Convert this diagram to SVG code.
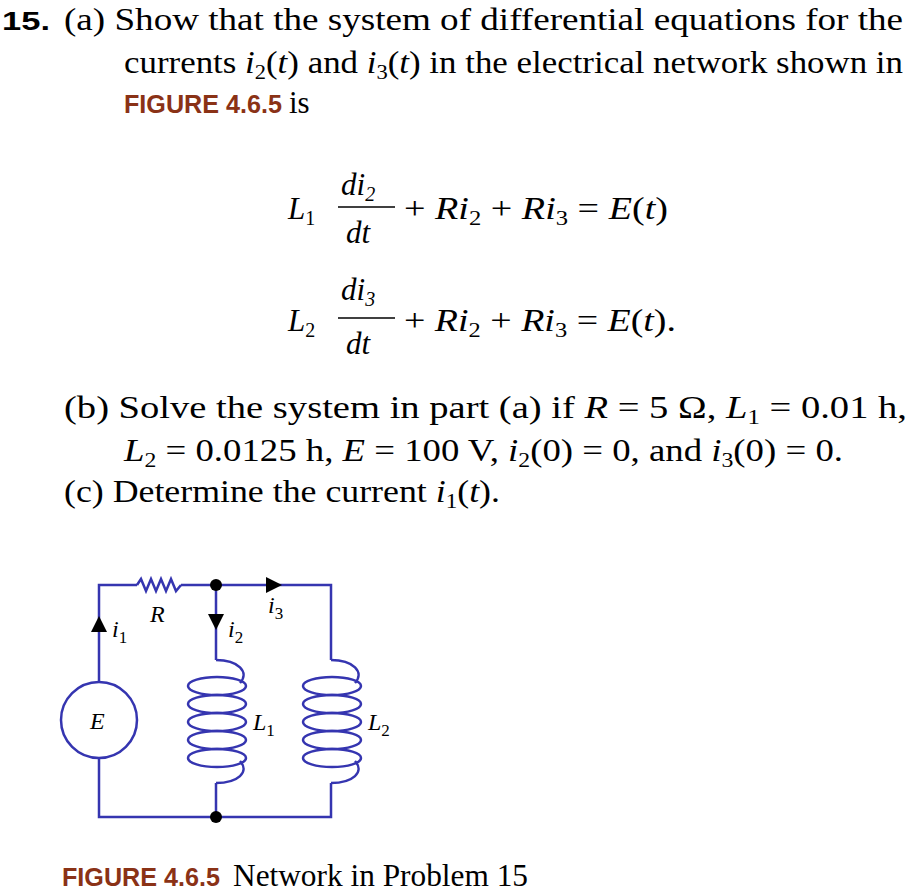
<svg xmlns="http://www.w3.org/2000/svg" width="910" height="893" viewBox="0 0 910 893">
<style>
.t{font-family:"Liberation Serif",serif;font-size:31px;fill:#000}
.i{font-style:italic}
.s{font-size:20px}
.h{font-family:"Liberation Sans",sans-serif;font-weight:bold;font-size:25px}
.fig{fill:#8a3216}
.w{fill:none;stroke:#3535b0;stroke-width:2.5}
.c{font-family:"Liberation Serif",serif;font-size:24px;font-style:italic}
</style>
<rect width="910" height="893" fill="#fff"/>
<text class="h" x="2" y="30" textLength="48" lengthAdjust="spacingAndGlyphs">15.</text>
<text class="t" x="64" y="30" textLength="839" lengthAdjust="spacingAndGlyphs">(a)  Show that the system of differential equations for the</text>
<text class="t" x="124" y="73" textLength="779" lengthAdjust="spacingAndGlyphs">currents <tspan class="i">i</tspan><tspan class="s" dy="6">2</tspan><tspan dy="-6">(</tspan><tspan class="i">t</tspan>) and <tspan class="i">i</tspan><tspan class="s" dy="6">3</tspan><tspan dy="-6">(</tspan><tspan class="i">t</tspan>) in the electrical network shown in</text>
<text class="h fig" x="124" y="113" textLength="158" lengthAdjust="spacingAndGlyphs">FIGURE 4.6.5</text>
<text class="t" x="289" y="113">is</text>

<g>
<text class="t i" x="288" y="219">L<tspan class="s" dy="6" font-style="normal">1</tspan></text>
<text class="t i" x="341" y="195">di<tspan class="s" dy="6">2</tspan></text>
<line x1="338" y1="207" x2="395" y2="207" stroke="#000" stroke-width="1.5"/>
<text class="t i" x="346" y="243">dt</text>
<text class="t" x="404" y="219" textLength="264" lengthAdjust="spacingAndGlyphs">+ <tspan class="i">Ri</tspan><tspan class="s" dy="6">2</tspan><tspan dy="-6"> + </tspan><tspan class="i">Ri</tspan><tspan class="s" dy="6">3</tspan><tspan dy="-6"> = </tspan><tspan class="i">E</tspan>(<tspan class="i">t</tspan>)</text>

<text class="t i" x="288" y="331">L<tspan class="s" dy="6" font-style="normal">2</tspan></text>
<text class="t i" x="341" y="300">di<tspan class="s" dy="6">3</tspan></text>
<line x1="338" y1="318" x2="395" y2="318" stroke="#000" stroke-width="1.5"/>
<text class="t i" x="346" y="354">dt</text>
<text class="t" x="404" y="331" textLength="272" lengthAdjust="spacingAndGlyphs">+ <tspan class="i">Ri</tspan><tspan class="s" dy="6">2</tspan><tspan dy="-6"> + </tspan><tspan class="i">Ri</tspan><tspan class="s" dy="6">3</tspan><tspan dy="-6"> = </tspan><tspan class="i">E</tspan>(<tspan class="i">t</tspan>).</text>
</g>

<text class="t" x="64" y="418" textLength="843" lengthAdjust="spacingAndGlyphs">(b)  Solve the system in part (a) if <tspan class="i">R</tspan> = 5 Ω, <tspan class="i">L</tspan><tspan class="s" dy="6">1</tspan><tspan dy="-6"> = 0.01 h,</tspan></text>
<text class="t" x="124" y="461" textLength="719" lengthAdjust="spacingAndGlyphs"><tspan class="i">L</tspan><tspan class="s" dy="6">2</tspan><tspan dy="-6"> = 0.0125 h, </tspan><tspan class="i">E</tspan> = 100 V, <tspan class="i">i</tspan><tspan class="s" dy="6">2</tspan><tspan dy="-6">(0) = 0, and </tspan><tspan class="i">i</tspan><tspan class="s" dy="6">3</tspan><tspan dy="-6">(0) = 0.</tspan></text>
<text class="t" x="64" y="502" textLength="436" lengthAdjust="spacingAndGlyphs">(c)  Determine the current <tspan class="i">i</tspan><tspan class="s" dy="6">1</tspan><tspan dy="-6">(</tspan><tspan class="i">t</tspan>).</text>

<g id="connectors">
<path class="w" d="M99,682 V585 H137 M181,585 H331 V660 M99,758 V817 H331 V783 M216,585 V660 M216,783 V817"/>
<path class="w" d="M137,585 l4,-6 l5,12 l5,-12 l5,12 l5,-12 l5,12 l5,-12 l5,12 l5,-6"/>
<polygon points="91,632 107,632 99,616" fill="#000"/>
<polygon points="208,614 224,614 216,630" fill="#000"/>
<polygon points="266,577 266,593 282,585" fill="#000"/>
<circle cx="216" cy="585" r="6" fill="#000"/>
<circle cx="216" cy="817" r="6" fill="#000"/>
</g>
<g id="E"><circle class="w" cx="99" cy="720" r="38"/><text class="c" x="90" y="729">E</text></g>
<g id="L1">
<path class="w" d="M216,660 C238,660 250,672 240,683 M240,761 C250,772 238,783 216,783"/>
<ellipse class="w" cx="217" cy="686" rx="29" ry="9"/><ellipse class="w" cx="217" cy="704" rx="29" ry="9"/><ellipse class="w" cx="217" cy="722" rx="29" ry="9"/><ellipse class="w" cx="217" cy="740" rx="29" ry="9"/><ellipse class="w" cx="217" cy="758" rx="29" ry="9"/>
<text class="c" x="253" y="730">L<tspan font-style="normal" font-size="17" dy="6">1</tspan></text>
</g>
<g id="L2">
<path class="w" d="M331,660 C353,660 365,672 355,683 M355,761 C365,772 353,783 331,783"/>
<ellipse class="w" cx="332" cy="686" rx="29" ry="9"/><ellipse class="w" cx="332" cy="704" rx="29" ry="9"/><ellipse class="w" cx="332" cy="722" rx="29" ry="9"/><ellipse class="w" cx="332" cy="740" rx="29" ry="9"/><ellipse class="w" cx="332" cy="758" rx="29" ry="9"/>
<text class="c" x="368" y="730">L<tspan font-style="normal" font-size="17" dy="6">2</tspan></text>
</g>
<g id="labels">
<text class="c" x="150" y="622">R</text>
<text class="c" x="112" y="637">i<tspan font-style="normal" font-size="17" dy="6">1</tspan></text>
<text class="c" x="228" y="637">i<tspan font-style="normal" font-size="17" dy="6">2</tspan></text>
<text class="c" x="268" y="613">i<tspan font-style="normal" font-size="17" dy="6">3</tspan></text>
</g>
<text class="h fig" x="62" y="886" textLength="158" lengthAdjust="spacingAndGlyphs">FIGURE 4.6.5</text>
<text class="t" x="233" y="886" textLength="295" lengthAdjust="spacingAndGlyphs">Network in Problem 15</text>
</svg>
